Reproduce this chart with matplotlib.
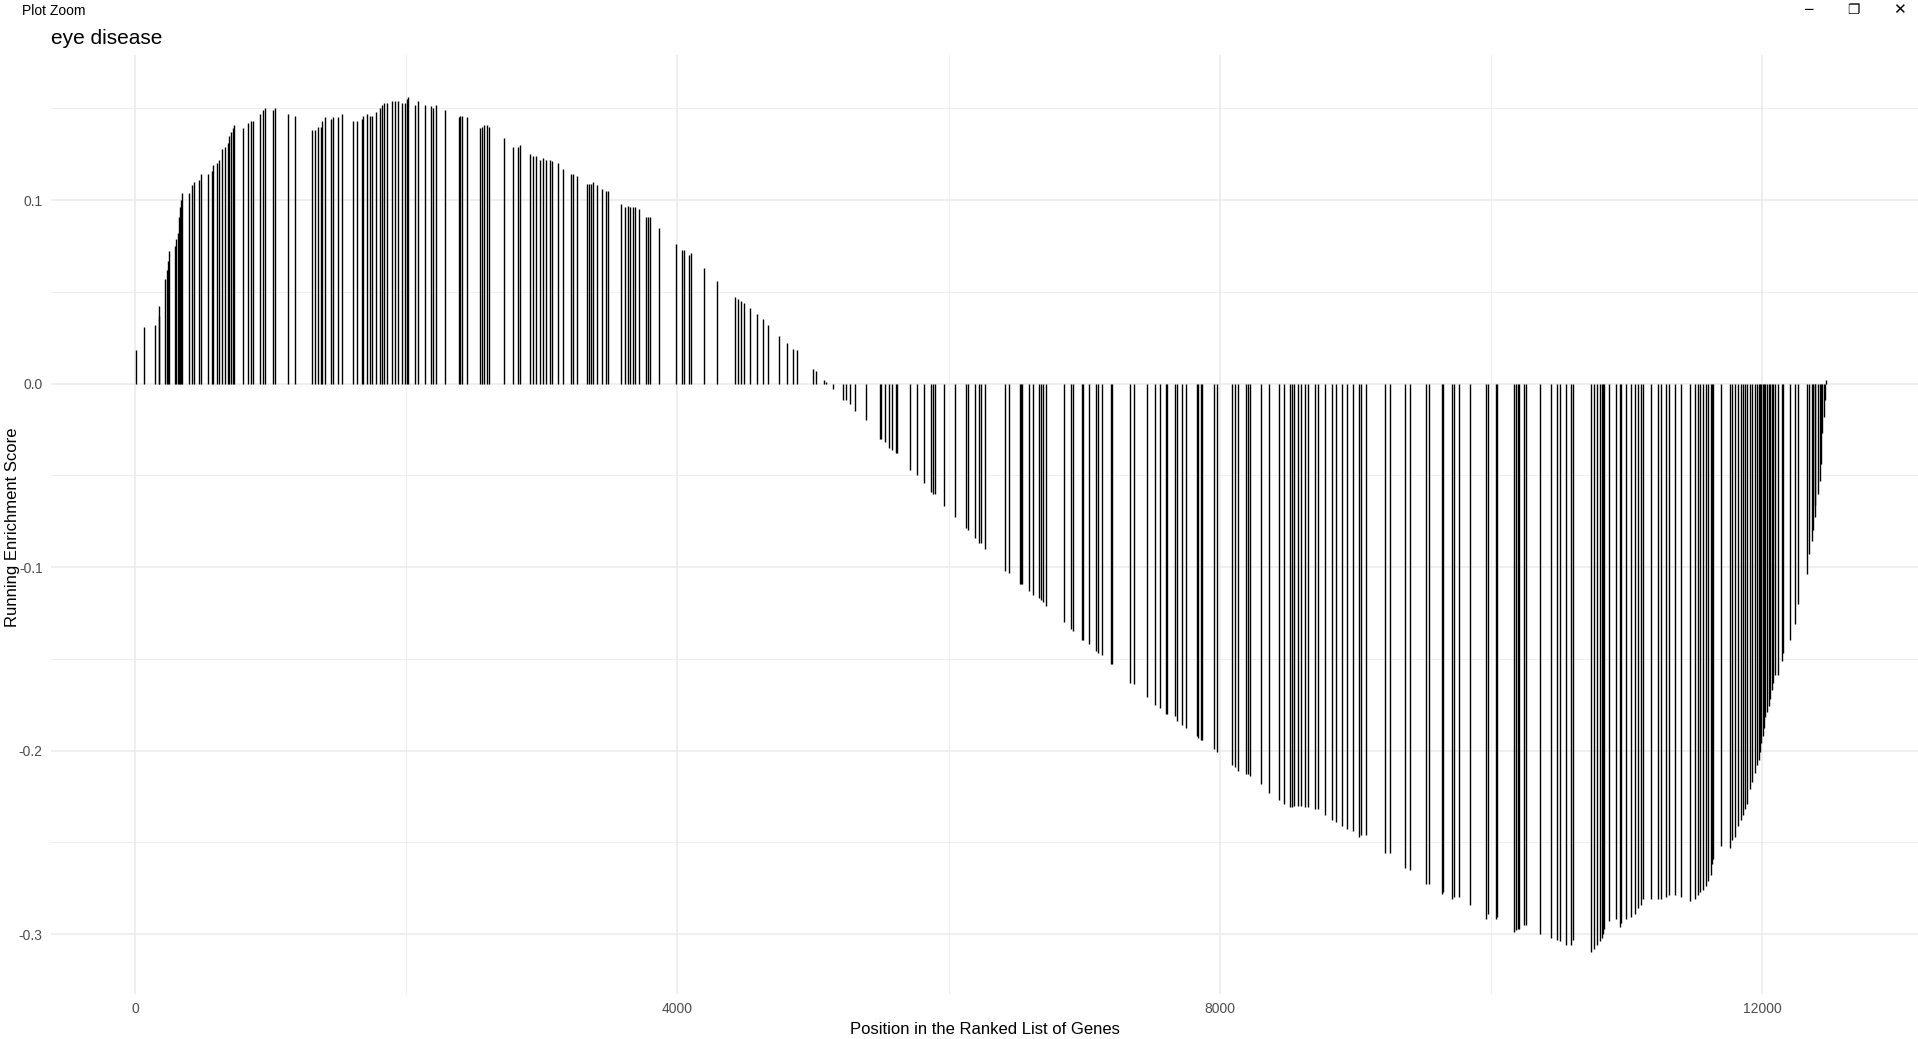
import matplotlib
matplotlib.use("Agg")
import matplotlib.pyplot as plt

plt.rcParams["font.family"] = ["Liberation Sans", "DejaVu Sans"]

title = "eye disease"
x_label = "Position in the Ranked List of Genes"
y_label = "Running Enrichment Score"
x_ticks = [0, 4000, 8000, 12000]
y_ticks = [-0.3, -0.2, -0.1, 0.0, 0.1]
y_tick_labels = ["-0.3", "-0.2", "-0.1", "0.0", "0.1"]

# hit positions in the ranked list and running enrichment score at each hit
hit_pos = [
    9, 68, 151, 174, 180, 223, 233, 246, 253, 292, 305, 319, 328, 335, 342, 348,
    401, 417, 437, 473, 490, 542, 565, 575, 605, 621, 641, 661, 687, 697, 710, 720,
    733, 799, 835, 855, 872, 921, 941, 960, 1016, 1030, 1128, 1178, 1309, 1329, 1349,
    1369, 1382, 1405, 1444, 1464, 1497, 1527, 1609, 1639, 1675, 1685, 1708, 1731,
    1751, 1774, 1807, 1823, 1836, 1859, 1895, 1918, 1942, 1971, 1994, 2004, 2011,
    2067, 2086, 2136, 2182, 2198, 2218, 2284, 2386, 2399, 2412, 2452, 2541, 2557,
    2577, 2597, 2610, 2725, 2788, 2827, 2837, 2916, 2936, 2959, 2985, 3008, 3031,
    3061, 3077, 3123, 3156, 3216, 3232, 3258, 3337, 3350, 3364, 3377, 3410, 3446,
    3476, 3492, 3581, 3617, 3637, 3653, 3670, 3686, 3716, 3765, 3782, 3798, 3867,
    3992, 4035, 4052, 4085, 4101, 4193, 4292, 4424, 4450, 4470, 4493, 4532, 4588,
    4634, 4671, 4750, 4812, 4852, 4885, 5003, 5023, 5085, 5095,
    5149, 5224, 5241, 5271, 5313, 5389, 5491, 5501, 5531, 5564, 5580, 5610, 5616,
    5718, 5764, 5817, 5870, 5883, 5899, 5968, 6051, 6126, 6146, 6196, 6228, 6238,
    6271, 6419, 6449, 6525, 6535, 6545, 6591, 6620, 6666, 6683, 6693, 6722, 6854,
    6900, 6920, 6986, 6995, 7032, 7084, 7104, 7130, 7196, 7203, 7338, 7371, 7463,
    7519, 7562, 7601, 7608, 7667, 7687, 7720, 7753, 7830, 7840, 7860, 7870,
    7956, 7980, 8091, 8112, 8135, 8190, 8206, 8223, 8301, 8362, 8437, 8477, 8521,
    8531, 8545, 8579, 8596, 8629, 8650, 8704, 8721, 8775, 8826, 8860, 8900, 8937,
    8981, 9029, 9042, 9076, 9218, 9255, 9367, 9404, 9523, 9540, 9638, 9648, 9712,
    9729, 9766, 9848, 9966, 9976, 10037, 10047, 10169, 10183, 10196, 10206, 10240,
    10257, 10359, 10440, 10484, 10508, 10555, 10592, 10606, 10738, 10758, 10785,
    10802, 10816, 10826, 10833, 10870, 10924, 10948, 10958, 10992, 11029, 11059,
    11083, 11103, 11124, 11178, 11232, 11256, 11289, 11310, 11354, 11404, 11465,
    11506, 11530, 11543, 11563, 11584, 11604, 11621, 11631, 11638, 11699, 11760,
    11780, 11800, 11824, 11841, 11858, 11871, 11888, 11908, 11925, 11949, 11962,
    11976, 11983, 11993, 12003, 12013, 12023, 12034, 12047, 12061, 12071, 12081,
    12091, 12115, 12149, 12155, 12203, 12243, 12264, 12331, 12342, 12365, 12375,
    12386, 12392, 12409, 12423, 12433, 12443, 12457, 12464, 12470,
]
running_es = [
    0.018, 0.031, 0.032, 0.037, 0.042, 0.057, 0.062, 0.067, 0.072, 0.075, 0.079, 0.082, 0.091, 0.096, 0.100, 0.104,
    0.104, 0.108, 0.110, 0.111, 0.114, 0.114, 0.116, 0.119, 0.120, 0.122, 0.128, 0.129, 0.131, 0.135, 0.137, 0.139,
    0.141, 0.139, 0.142, 0.143, 0.143, 0.147, 0.149, 0.150, 0.149, 0.150, 0.147, 0.146, 0.138, 0.138, 0.140,
    0.140, 0.143, 0.145, 0.144, 0.145, 0.145, 0.147, 0.143, 0.143, 0.144, 0.146, 0.147, 0.146,
    0.146, 0.148, 0.150, 0.152, 0.153, 0.153, 0.154, 0.154, 0.154, 0.153, 0.153, 0.155, 0.156,
    0.152, 0.154, 0.152, 0.151, 0.150, 0.152, 0.149, 0.145, 0.146, 0.146, 0.145, 0.139, 0.140,
    0.141, 0.141, 0.140, 0.134, 0.129, 0.129, 0.130, 0.125, 0.124, 0.124, 0.122, 0.123, 0.122,
    0.122, 0.121, 0.120, 0.117, 0.114, 0.114, 0.113, 0.109, 0.109, 0.109, 0.110, 0.108, 0.106,
    0.105, 0.105, 0.098, 0.096, 0.097, 0.096, 0.096, 0.096, 0.095, 0.091, 0.091, 0.091, 0.085,
    0.076, 0.073, 0.073, 0.070, 0.071, 0.063, 0.056, 0.047, 0.046, 0.045, 0.044, 0.041, 0.038,
    0.035, 0.032, 0.026, 0.022, 0.019, 0.018, 0.008, 0.007, 0.002, 0.001,
    -0.003, -0.009, -0.009, -0.011, -0.015, -0.020, -0.030, -0.030, -0.032, -0.035, -0.036, -0.038, -0.038,
    -0.047, -0.050, -0.054, -0.059, -0.060, -0.060, -0.067, -0.073, -0.079, -0.080, -0.084, -0.087, -0.087,
    -0.090, -0.102, -0.103, -0.109, -0.109, -0.109, -0.113, -0.115, -0.117, -0.118, -0.119, -0.121, -0.130,
    -0.134, -0.135, -0.140, -0.140, -0.142, -0.146, -0.147, -0.148, -0.153, -0.153, -0.163, -0.164, -0.171,
    -0.175, -0.177, -0.180, -0.180, -0.181, -0.184, -0.186, -0.188, -0.192, -0.193, -0.194, -0.194,
    -0.199, -0.201, -0.208, -0.209, -0.211, -0.213, -0.213, -0.214, -0.218, -0.223, -0.227, -0.229, -0.231,
    -0.231, -0.230, -0.230, -0.230, -0.231, -0.231, -0.232, -0.232, -0.235, -0.238, -0.239, -0.241, -0.243,
    -0.244, -0.247, -0.246, -0.246, -0.256, -0.256, -0.264, -0.265, -0.273, -0.273, -0.278, -0.277, -0.281,
    -0.280, -0.280, -0.284, -0.292, -0.289, -0.292, -0.291, -0.299, -0.298, -0.297, -0.297, -0.295,
    -0.295, -0.300, -0.302, -0.303, -0.304, -0.306, -0.306, -0.303, -0.310, -0.308, -0.306,
    -0.304, -0.302, -0.300, -0.297, -0.293, -0.292, -0.296, -0.294, -0.292, -0.291, -0.289,
    -0.286, -0.284, -0.281, -0.281, -0.281, -0.281, -0.280, -0.279, -0.279, -0.280, -0.282,
    -0.281, -0.279, -0.277, -0.276, -0.274, -0.271, -0.268, -0.262, -0.259, -0.252, -0.253,
    -0.249, -0.247, -0.241, -0.238, -0.235, -0.232, -0.229, -0.221, -0.217, -0.212, -0.208,
    -0.205, -0.201, -0.196, -0.192, -0.188, -0.182, -0.179, -0.176, -0.172, -0.167, -0.163,
    -0.159, -0.159, -0.151, -0.147, -0.140, -0.131, -0.120, -0.104, -0.093, -0.086, -0.080,
    -0.073, -0.066, -0.060, -0.053, -0.044, -0.027, -0.018, -0.009, 0.002,
]

fig = plt.figure(figsize=(19.18, 10.39), dpi=100)
ax = fig.add_axes([0.0266, 0.0433, 0.9734, 0.9037])

grid_col = "#EBEBEB"
for x in [0, 2000, 4000, 6000, 8000, 10000, 12000]:
    ax.axvline(x, color=grid_col, lw=1.1 if x % 4000 == 0 else 0.6, zorder=0)
for y in [-0.3, -0.25, -0.2, -0.15, -0.1, -0.05, 0.0, 0.05, 0.1, 0.15]:
    ax.axhline(y, color=grid_col, lw=1.1 if round(y * 100) % 10 == 0 else 0.6, zorder=0)

ax.vlines(hit_pos, 0, running_es, color="black", linewidth=1.0, zorder=2)

ax.set_xlim(-619, 13149)
ax.set_ylim(-0.3327, 0.179)
ax.set_xticks(x_ticks)
ax.set_xticklabels([str(t) for t in x_ticks])
ax.set_yticks(y_ticks)
ax.set_yticklabels(y_tick_labels)
ax.tick_params(length=0, labelsize=10, colors="#4D4D4D", pad=6)
for s in ax.spines.values():
    s.set_visible(False)

ax.set_xlabel(x_label, fontsize=12, color="black", labelpad=4)
fig.text(13 / 1918, 0.5 + (1039 / 2 - 527) / 1039, y_label, fontsize=12,
         rotation=90, va="center", ha="center")

fig.text(51 / 1918, 1 - 39 / 1039, title, fontsize=15, va="center", ha="left")
fig.text(22 / 1918, 1 - 11 / 1039, "Plot Zoom", fontsize=10, va="center", ha="left")
fig.text(1808 / 1918, 1 - 10 / 1039, "─", fontsize=10, va="center", ha="center",
         family="DejaVu Sans")
fig.text(1853 / 1918, 1 - 10 / 1039, "❐", fontsize=10, va="center", ha="center",
         family="DejaVu Sans")
fig.text(1899 / 1918, 1 - 10 / 1039, "✕", fontsize=11, va="center", ha="center",
         family="DejaVu Sans")

fig.savefig("out.png", dpi=100)
